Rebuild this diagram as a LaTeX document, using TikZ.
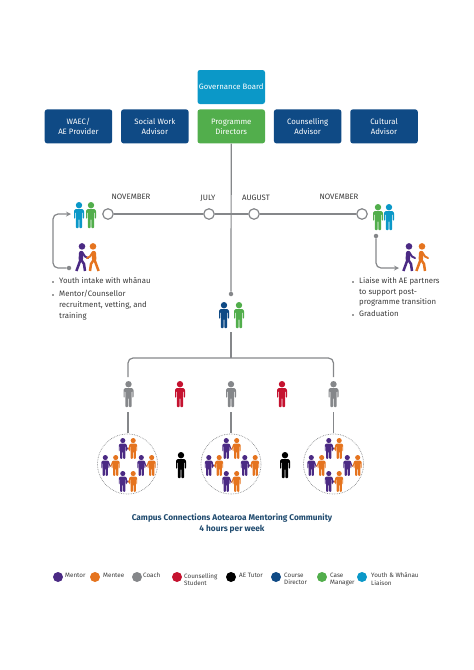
\documentclass[tikz,border=0pt]{standalone}
\usepackage{fontspec}
\setmainfont{Fira Sans}
\usepackage{xcolor}
\usepackage{tikz}
\usetikzlibrary{arrows.meta, positioning, calc}

\definecolor{navyblue}{HTML}{0F4A85}
\definecolor{liaisonblue}{HTML}{0B98C8}
\definecolor{casegreen}{HTML}{52AE4C}
\definecolor{mentorpurple}{HTML}{4B2A84}
\definecolor{menteeorange}{HTML}{E5741F}
\definecolor{coachgray}{HTML}{85878A}
\definecolor{studentred}{HTML}{C5122F}
\definecolor{titleblue}{HTML}{1F4A6E}
\definecolor{bodygray}{HTML}{3A3A3A}

\tikzset{
  stander/.pic={
    \fill[#1] (0,3.2) circle (3.2);
    \fill[#1, rounded corners=0.8] (-5,8.5) -- (-3.5,7) -- (3.5,7) -- (5,8.5) -- (5,16.5) -- (3.9,16.5) -- (3.9,10) -- (3.2,10)
      -- (3.2,26) -- (0.4,26) -- (0.4,17) -- (-0.4,17) -- (-0.4,26) -- (-3.2,26) -- (-3.2,10) -- (-3.9,10) -- (-3.9,16.5) -- (-5,16.5) -- cycle;
  },
  walker/.pic={
    \fill[#1] (1,3.4) circle (3.3);
    \draw[#1, line width=4.4, line cap=round, line join=round] (0.2,10) -- (-0.2,16);
    \draw[#1, line width=2.5, line join=round] (-0.2,16) -- (-4.6,28);
    \draw[#1, line width=2.5, line join=round] (-0.2,16) -- (3,21) -- (4,28);
    \draw[#1, line width=2, line cap=round, line join=round] (1,9) -- (4,13.5) -- (7,15);
  },
  pairup/.pic={
    \pic[scale=0.8] at (-5.2,0) {stander=mentorpurple};
    \pic[scale=0.8] at (5.2,0) {stander=menteeorange};
    \draw[mentorpurple, line width=1] (-2.5,7) -- (0,11.5);
    \draw[menteeorange, line width=1] (2.5,7) -- (0,11.5);
  },
  mentorgroup/.pic={
    \draw[coachgray, densely dotted, line width=0.7] (0,0) circle (30);
    \pic at (0.5,-26) {pairup};
    \pic at (-17,-9) {pairup};
    \pic at (19,-9) {pairup};
    \pic at (0.5,7) {pairup};
  }
}

\begin{document}
\begin{tikzpicture}[
  x=1pt, y=-1pt,
  >=stealth,
  every node/.style={font=\fontsize{7.8}{10.8}\selectfont, text=bodygray},
  board/.style={rectangle, fill=navyblue, rounded corners=2.5pt, minimum width=67.5pt, minimum height=34pt, inner sep=0pt, align=center, font=\fontsize{7.8}{10}\selectfont, text=white},
  month/.style={circle, draw=coachgray, fill=white, line width=1.2pt, minimum size=10.5pt, inner sep=0pt},
  monthname/.style={font=\fontsize{7.8}{9}\selectfont, text=bodygray},
  flow/.style={draw=coachgray, line width=1.2pt},
  enddot/.style={circle, fill=coachgray, minimum size=4.5pt, inner sep=0pt},
  tick/.style={circle, fill=bodygray, minimum size=1.8pt, inner sep=0pt},
  note/.style={anchor=north west, align=left, inner sep=0pt},
  swatch/.style={circle, minimum size=10pt, inner sep=0pt},
  key/.style={anchor=north west, align=left, inner sep=0pt, font=\fontsize{6.3}{7.2}\selectfont},
  headline/.style={font=\bfseries\fontsize{8.3}{11}\selectfont, text=titleblue, align=center}
]
\useasboundingbox (0,0) rectangle (474,670);

\node[board, fill=liaisonblue] (governance) at (231.25,87) {Governance Board};
\node[board, fill=casegreen, below=5pt of governance] (directors) {Programme\\Directors};
\node[board, left=8.5pt of directors] (social) {Social Work\\Advisor};
\node[board, left=8.5pt of social] (waec) {WAEC/\\AE Provider};
\node[board, right=8.5pt of directors] (counselling) {Counselling\\Advisor};
\node[board, right=8.5pt of counselling] (cultural) {Cultural\\Advisor};

\node[month] (novstart) at (108,214) {};
\node[month] (july) at (209,214) {};
\node[month] (august) at (254,214) {};
\node[month] (novend) at (362,214) {};
\node[monthname] (novstartname) at (131,197) {NOVEMBER};
\node[monthname] (julyname) at (208,198) {JULY};
\node[monthname] (augustname) at (256,198) {AUGUST};
\node[monthname] (novendname) at (339,197) {NOVEMBER};
\node[enddot] (stemdot) at (231,294) {};
\draw[flow] (novstart) -- (july) -- (august) -- (novend);
\draw[flow] (directors) -- (stemdot);

\pic at (79,202) {stander=liaisonblue};
\pic at (91,202) {stander=casegreen};
\pic at (81,243) {walker=mentorpurple};
\pic[xscale=-1] at (94,243) {walker=menteeorange};
\node[enddot] (intakedot) at (69,268) {};
\coordinate (intakein) at (71,214);
\draw[flow, ->, rounded corners=5pt] (intakedot) -- ++(-16,0) |- (intakein);

\pic at (378,204) {stander=casegreen};
\pic at (389,204) {stander=liaisonblue};
\pic at (408,243) {walker=mentorpurple};
\pic at (421,243) {walker=menteeorange};
\node[enddot] (liaisedot) at (376,236) {};
\coordinate (liaisein) at (399,268);
\draw[flow, ->, rounded corners=5pt] (liaisedot) |- (liaisein);

\node[tick] (intakemark) at (53,282) {};
\node[note] (intake) at (59,277) {Youth intake with whānau};
\node[tick] (trainmark) at (53,295) {};
\node[note] (train) at (59,290) {Mentor/Counsellor\\recruitment, vetting, and\\training};
\node[tick] (liaisemark) at (353,282) {};
\node[note] (liaise) at (359,277) {Liaise with AE partners\\to support post-\\programme transition};
\node[tick] (gradmark) at (353,315) {};
\node[note] (grad) at (359,310) {Graduation};

\pic at (224,302) {stander=navyblue};
\pic at (239,302) {stander=casegreen};

\coordinate (stemtop) at (231,332);
\coordinate (stemfoot) at (231,358);
\coordinate (leftdrop) at (128,377);
\coordinate (rightdrop) at (333.5,377);
\draw[flow] (stemtop) -- (stemfoot);
\draw[flow, rounded corners=5pt] (leftdrop) |- (stemfoot) -| (rightdrop);

\pic at (128.5,381) {stander=coachgray};
\pic at (180,381) {stander=studentred};
\pic at (231,381) {stander=coachgray};
\pic at (282,381) {stander=studentred};
\pic at (333.5,381) {stander=coachgray};

\pic at (127.5,464) {mentorgroup};
\pic at (231,464) {mentorgroup};
\pic at (333.5,464) {mentorgroup};

\coordinate (groupatop) at (128,412);
\coordinate (groupabottom) at (128,433);
\coordinate (groupbtop) at (231,412);
\coordinate (groupbbottom) at (231,433);
\coordinate (groupctop) at (333.5,412);
\coordinate (groupcbottom) at (333.5,433);
\draw[flow] (groupatop) -- (groupabottom);
\draw[flow] (groupbtop) -- (groupbbottom);
\draw[flow] (groupctop) -- (groupcbottom);

\pic at (181,452) {stander=black};
\pic at (285,452) {stander=black};

\node[headline] (community) at (232,523.5) {Campus Connections Aotearoa Mentoring Community\\4 hours per week};

\node[swatch, fill=mentorpurple] (mentordot) at (58,577) {};
\node[key] (mentorkey) at (65,573) {Mentor};
\node[swatch, fill=menteeorange] (menteedot) at (95,577) {};
\node[key] (menteekey) at (103,573) {Mentee};
\node[swatch, fill=coachgray] (coachdot) at (137,577) {};
\node[key] (coachkey) at (143,573) {Coach};
\node[swatch, fill=studentred] (studentdot) at (177,577) {};
\node[key] (studentkey) at (184,573) {Counselling\\Student};
\node[swatch, fill=black] (tutordot) at (231,577) {};
\node[key] (tutorkey) at (239,573) {AE Tutor};
\node[swatch, fill=navyblue] (coursedot) at (276,577) {};
\node[key] (coursekey) at (284,573) {Course\\Director};
\node[swatch, fill=casegreen] (casedot) at (322,577) {};
\node[key] (casekey) at (330,573) {Case\\Manager};
\node[swatch, fill=liaisonblue] (liaisondot) at (362,577) {};
\node[key] (liaisonkey) at (371,573) {Youth \& Whānau\\Liaison};

\end{tikzpicture}
\end{document}
